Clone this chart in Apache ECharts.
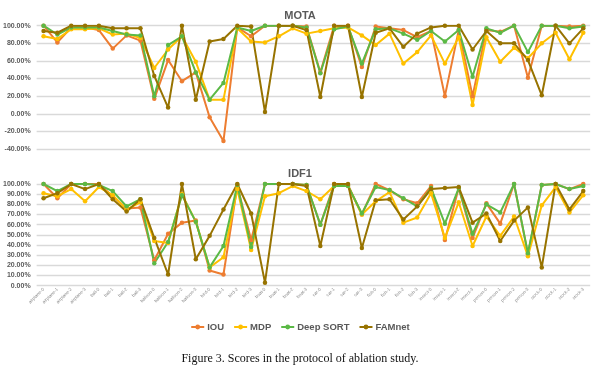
<!DOCTYPE html>
<html>
<head>
<meta charset="utf-8">
<script src="https://cdn.jsdelivr.net/npm/echarts@6/dist/echarts.min.js"></script>
<style>
html,body{margin:0;padding:0;background:#fff;}
#c{width:600px;height:381px;}
</style>
</head>
<body>
<div id="c"></div>
<script>
var categories = ['airplane-0','airplane-1','airplane-2','airplane-3','ball-0','ball-1','ball-2','ball-3','balloon-0','balloon-1','balloon-2','balloon-3','bird-0','bird-1','bird-2','bird-3','boat-0','boat-1','boat-2','boat-3','car-0','car-1','car-2','car-3','fish-0','fish-1','fish-2','fish-3','insect-0','insect-1','insect-2','insect-3','person-0','person-1','person-2','person-3','stock-0','stock-1','stock-2','stock-3'];
var seriesNames = ['IOU','MDP','Deep SORT','FAMnet'];

var motaIOU      = [100,81,98,98,95,74,89,83,17,61,37,47,-4,-31,98,88,100,100,100,99,47,100,100,53,99,97,95,87,94,20,95,20,95,93,100,41,100,100,99,100];
var motaMDP      = [88,85,96,96,97,90,91,86,52,73,88,59,16,16,97,82,81,88,97,91,94,97,98,89,78,91,57,70,89,57,87,10,87,59,75,63,80,92,62,92];
var motaDeepSORT = [100,90,98,98,98,94,90,89,20,78,88,47,16,35,98,94,100,100,100,98,46,96,99,57,96,97,91,84,94,82,95,42,97,92,100,70,100,100,97,99];
var motaFAMnet   = [94,92,100,100,100,97,97,97,43,7,100,16,82,85,100,99,2,100,100,95,19,100,100,19,92,97,76,91,98,100,100,73,94,80,80,61,21,100,80,97];

var idf1IOU      = [100,86,100,100,100,88,76,77,25,51,62,64,15,11,98,45,100,100,100,99,60,100,99,70,100,94,85,81,98,45,96,47,81,61,100,31,99,100,95,100];
var idf1MDP      = [91,88,95,83,97,89,75,82,44,42,90,63,18,28,95,35,88,91,98,93,85,98,98,70,83,92,62,67,91,47,82,39,68,49,68,29,79,97,72,89];
var idf1DeepSORT = [100,93,100,100,99,93,78,85,22,43,89,63,18,39,99,38,100,100,100,99,60,98,98,71,97,94,86,78,96,61,96,51,80,72,100,32,99,100,95,98];
var idf1FAMnet   = [86,91,100,95,100,85,73,85,47,11,100,26,49,75,100,71,3,100,100,98,39,100,100,37,84,85,65,78,95,96,97,62,71,44,64,77,18,100,75,93];

var motaTicks = {min:-40, max:100, interval:20};
var idf1Ticks = {min:0, max:100, interval:10};

var colors = ['#ED7D31','#FFC000','#5BB946','#977300'];
var motaData = [motaIOU, motaMDP, motaDeepSORT, motaFAMnet];
var idf1Data = [idf1IOU, idf1MDP, idf1DeepSORT, idf1FAMnet];

function mkSeries(data, idx, name){
  return {
    name: name, type:'line', xAxisIndex: idx, yAxisIndex: idx,
    data: data, symbol:'circle', symbolSize:4.5, showSymbol:true,
    lineStyle:{width:2, color: colors[seriesNames.indexOf(name)]},
    itemStyle:{color: colors[seriesNames.indexOf(name)]},
    emphasis:{disabled:true}, animation:false
  };
}
var series = [];
seriesNames.forEach(function(n,i){ series.push(mkSeries(motaData[i],0,n)); });
seriesNames.forEach(function(n,i){ series.push(mkSeries(idf1Data[i],1,n)); });

var yLabel = {fontSize:7, fontWeight:'bold', color:'#595959', margin:6,
  fontFamily:'Liberation Sans', formatter:function(v){return v.toFixed(2)+'%';}};
var split = {show:true, lineStyle:{color:'#d9d9d9', width:1.3}};

var chart = echarts.init(document.getElementById('c'), null, {renderer:'canvas'});
chart.setOption({
  animation:false,
  color: colors,
  title:[
    {text:'MOTA', left:'center', top:5, textStyle:{fontSize:11, fontWeight:'bold', color:'#595959', fontFamily:'Liberation Sans'}},
    {text:'IDF1', left:'center', top:163, textStyle:{fontSize:11, fontWeight:'bold', color:'#595959', fontFamily:'Liberation Sans'}},
    {text:'Figure 3. Scores in the protocol of ablation study.', left:'center', top:348, textStyle:{fontSize:12, fontWeight:'normal', color:'#111', fontFamily:'Liberation Serif'}}
  ],
  legend:{
    data: seriesNames, top:317, left:'center', itemWidth:13, itemHeight:6, itemGap:9,
    textStyle:{fontSize:9.5, fontWeight:'bold', color:'#595959', fontFamily:'Liberation Sans', padding:[0,0,0,-2]}
  },
  grid:[
    {left:35.4, right:9.8, top:25.7, height:123.3, containLabel:false},
    {left:35.4, right:9.8, top:184, height:101.7, containLabel:false}
  ],
  xAxis:[
    {type:'category', gridIndex:0, data:categories, boundaryGap:true,
     axisLine:{show:false}, axisTick:{show:false}, axisLabel:{show:false}},
    {type:'category', gridIndex:1, data:categories, boundaryGap:true,
     axisLine:{show:false}, axisTick:{show:false},
     axisLabel:{show:true, interval:0, rotate:45, fontSize:4.5, color:'#8c8c8c', margin:3, fontFamily:'Liberation Sans'}}
  ],
  yAxis:[
    {type:'value', gridIndex:0, min:motaTicks.min, max:motaTicks.max, interval:motaTicks.interval,
     axisLine:{show:false}, axisTick:{show:false}, axisLabel:yLabel, splitLine:split},
    {type:'value', gridIndex:1, min:idf1Ticks.min, max:idf1Ticks.max, interval:idf1Ticks.interval,
     axisLine:{show:false}, axisTick:{show:false}, axisLabel:yLabel, splitLine:split}
  ],
  series: series
});
</script>
</body>
</html>
